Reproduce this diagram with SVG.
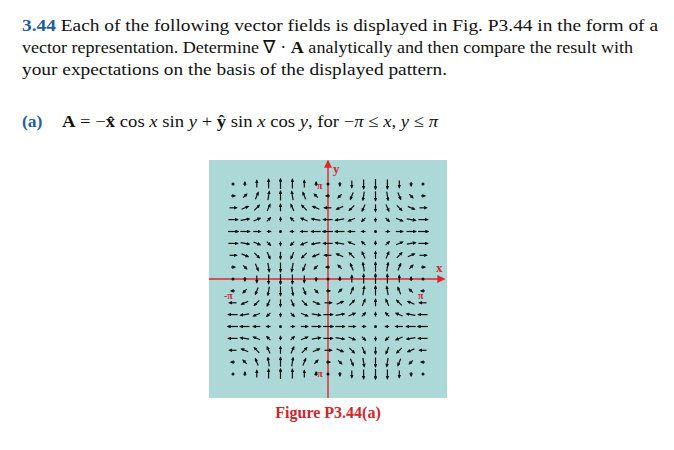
<svg xmlns="http://www.w3.org/2000/svg" width="674" height="450" viewBox="0 0 674 450">
<style>
.t{font-family:"Liberation Serif",serif;font-size:17.5px;fill:#111}
.b{font-weight:bold;fill:#1f5d9e}
.r{font-family:"Liberation Serif",serif;font-weight:bold;fill:#d0262c}
.ar path{fill:none;stroke:#111;stroke-width:1.2;marker-end:url(#h)}
.ar circle{fill:#111}
.ax{stroke:#e0262a;stroke-width:1.4;fill:none}
</style>
<defs>
<marker id="h" markerUnits="userSpaceOnUse" markerWidth="4" markerHeight="3.6" refX="3" refY="2" orient="auto" viewBox="0 0 4.5 4">
<path d="M0,0L4.5,2L0,4z" fill="#111"/>
</marker>
<marker id="ah" markerUnits="userSpaceOnUse" markerWidth="8" markerHeight="8" refX="5" refY="3" orient="auto" viewBox="0 0 6 6">
<path d="M0,0L6,3L0,6z" fill="#e0262a"/>
</marker>
</defs>
<rect width="674" height="450" fill="#fff"/>
<text class="t" x="22" y="31" textLength="636" lengthAdjust="spacingAndGlyphs"><tspan class="b">3.44</tspan>  Each of the following vector fields is displayed in Fig. P3.44 in the form of a</text>
<text class="t" x="22" y="53" textLength="611" lengthAdjust="spacingAndGlyphs">vector representation. Determine ∇ · <tspan font-weight="bold">A</tspan> analytically and then compare the result with</text>
<text class="t" x="22" y="75" textLength="425" lengthAdjust="spacingAndGlyphs">your expectations on the basis of the displayed pattern.</text>
<text class="t" x="22" y="127"><tspan class="b">(a)</tspan></text>
<text class="t" x="62" y="127" textLength="376" lengthAdjust="spacingAndGlyphs"><tspan font-weight="bold">A</tspan> = −<tspan font-weight="bold">x̂</tspan> cos <tspan font-style="italic">x</tspan> sin <tspan font-style="italic">y</tspan> + <tspan font-weight="bold">ŷ</tspan> sin <tspan font-style="italic">x</tspan> cos <tspan font-style="italic">y</tspan>, for −<tspan font-style="italic">π</tspan> ≤ <tspan font-style="italic">x</tspan>, <tspan font-style="italic">y</tspan> ≤ <tspan font-style="italic">π</tspan></text>
<rect x="209" y="160" width="238" height="238" fill="#acd8d7"/>
<g id="axes">
<path class="ax" d="M209 279H444" marker-end="url(#ah)"/>
<path class="ax" d="M328 398V161" marker-end="url(#ah)"/>
<text class="r" x="333" y="173" font-size="13">y</text>
<text class="r" x="436" y="272" font-size="13">x</text>
<text class="r" x="317" y="189" font-size="10">π</text>
<text class="r" x="314" y="377" font-size="10">-π</text>
<text class="r" x="224" y="299" font-size="10">-π</text>
<text class="r" x="418" y="299" font-size="10">π</text>
</g>
<g id="field" class="ar">
<g transform="translate(0,184)">
<circle cx="233" cy="0" r="1.5"/><path d="M244.9 0m0 1.9l0 -3.8"/><path d="M256.8 0m0 3.5l0 -7"/><path d="M268.6 0m0 4.6l0 -9.2"/><path d="M280.5 0m0 5l0 -10"/><path d="M292.4 0m0 4.6l0 -9.2"/><path d="M304.3 0m0 3.5l0 -7"/><path d="M316.1 0m0 1.9l0 -3.8"/><circle cx="328" cy="0" r="1.5"/><path d="M339.9 0m0 -1.9l0 3.8"/><path d="M351.8 0m0 -3.5l0 7"/><path d="M363.6 0m0 -4.6l0 9.2"/><path d="M375.5 0m0 -5l0 10"/><path d="M387.4 0m0 -4.6l0 9.2"/><path d="M399.3 0m0 -3.5l0 7"/><path d="M411.1 0m0 -1.9l0 3.8"/><circle cx="423" cy="0" r="1.5"/>
</g>
<g transform="translate(0,374)">
<circle cx="233" cy="0" r="1.5"/><path d="M244.9 0m0 1.9l0 -3.8"/><path d="M256.8 0m0 3.5l0 -7"/><path d="M268.6 0m0 4.6l0 -9.2"/><path d="M280.5 0m0 5l0 -10"/><path d="M292.4 0m0 4.6l0 -9.2"/><path d="M304.3 0m0 3.5l0 -7"/><path d="M316.1 0m0 1.9l0 -3.8"/><circle cx="328" cy="0" r="1.5"/><path d="M339.9 0m0 -1.9l0 3.8"/><path d="M351.8 0m0 -3.5l0 7"/><path d="M363.6 0m0 -4.6l0 9.2"/><path d="M375.5 0m0 -5l0 10"/><path d="M387.4 0m0 -4.6l0 9.2"/><path d="M399.3 0m0 -3.5l0 7"/><path d="M411.1 0m0 -1.9l0 3.8"/><circle cx="423" cy="0" r="1.5"/>
</g>
<g transform="translate(0,195.9)">
<path d="M233 0m-1.9 0l3.8 0"/><path d="M244.9 0m-1.8 1.8l3.6 -3.6"/><path d="M256.8 0m-1.4 3.3l2.8 -6.6"/><path d="M268.6 0m-.7 4.3l1.4 -8.6"/><path d="M280.5 0m0 4.6l0 -9.2"/><path d="M292.4 0m.7 4.3l-1.4 -8.6"/><path d="M304.3 0m1.4 3.3l-2.8 -6.6"/><path d="M316.1 0m1.8 1.8l-3.6 -3.6"/><path d="M328 0m1.9 0l-3.8 0"/><path d="M339.9 0m1.8 -1.8l-3.6 3.6"/><path d="M351.8 0m1.4 -3.3l-2.8 6.6"/><path d="M363.6 0m.7 -4.3l-1.4 8.6"/><path d="M375.5 0m0 -4.6l0 9.2"/><path d="M387.4 0m-.7 -4.3l1.4 8.6"/><path d="M399.3 0m-1.4 -3.3l2.8 6.6"/><path d="M411.1 0m-1.8 -1.8l3.6 3.6"/><path d="M423 0m-1.9 0l3.8 0"/>
</g>
<g transform="translate(0,362.1)">
<path d="M233 0m1.9 0l-3.8 0"/><path d="M244.9 0m1.8 1.8l-3.6 -3.6"/><path d="M256.8 0m1.4 3.3l-2.8 -6.6"/><path d="M268.6 0m.7 4.3l-1.4 -8.6"/><path d="M280.5 0m0 4.6l0 -9.2"/><path d="M292.4 0m-.7 4.3l1.4 -8.6"/><path d="M304.3 0m-1.4 3.3l2.8 -6.6"/><path d="M316.1 0m-1.8 1.8l3.6 -3.6"/><path d="M328 0m-1.9 0l3.8 0"/><path d="M339.9 0m-1.8 -1.8l3.6 3.6"/><path d="M351.8 0m-1.4 -3.3l2.8 6.6"/><path d="M363.6 0m-.7 -4.3l1.4 8.6"/><path d="M375.5 0m0 -4.6l0 9.2"/><path d="M387.4 0m.7 -4.3l-1.4 8.6"/><path d="M399.3 0m1.4 -3.3l-2.8 6.6"/><path d="M411.1 0m1.8 -1.8l-3.6 3.6"/><path d="M423 0m1.9 0l-3.8 0"/>
</g>
<g transform="translate(0,207.8)">
<path d="M233 0m-3.5 0l7 0"/><path d="M244.9 0m-3.3 1.4l6.6 -2.8"/><path d="M256.8 0m-2.5 2.5l5 -5"/><path d="M268.6 0m-1.4 3.3l2.8 -6.6"/><path d="M280.5 0m0 3.5l0 -7"/><path d="M292.4 0m1.4 3.3l-2.8 -6.6"/><path d="M304.3 0m2.5 2.5l-5 -5"/><path d="M316.1 0m3.3 1.4l-6.6 -2.8"/><path d="M328 0m3.5 0l-7 0"/><path d="M339.9 0m3.3 -1.4l-6.6 2.8"/><path d="M351.8 0m2.5 -2.5l-5 5"/><path d="M363.6 0m1.4 -3.3l-2.8 6.6"/><path d="M375.5 0m0 -3.5l0 7"/><path d="M387.4 0m-1.4 -3.3l2.8 6.6"/><path d="M399.3 0m-2.5 -2.5l5 5"/><path d="M411.1 0m-3.3 -1.4l6.6 2.8"/><path d="M423 0m-3.5 0l7 0"/>
</g>
<g transform="translate(0,350.3)">
<path d="M233 0m3.5 0l-7 0"/><path d="M244.9 0m3.3 1.4l-6.6 -2.8"/><path d="M256.8 0m2.5 2.5l-5 -5"/><path d="M268.6 0m1.4 3.3l-2.8 -6.6"/><path d="M280.5 0m0 3.5l0 -7"/><path d="M292.4 0m-1.4 3.3l2.8 -6.6"/><path d="M304.3 0m-2.5 2.5l5 -5"/><path d="M316.1 0m-3.3 1.4l6.6 -2.8"/><path d="M328 0m-3.5 0l7 0"/><path d="M339.9 0m-3.3 -1.4l6.6 2.8"/><path d="M351.8 0m-2.5 -2.5l5 5"/><path d="M363.6 0m-1.4 -3.3l2.8 6.6"/><path d="M375.5 0m0 -3.5l0 7"/><path d="M387.4 0m1.4 -3.3l-2.8 6.6"/><path d="M399.3 0m2.5 -2.5l-5 5"/><path d="M411.1 0m3.3 -1.4l-6.6 2.8"/><path d="M423 0m3.5 0l-7 0"/>
</g>
<g transform="translate(0,219.6)">
<path d="M233 0m-4.6 0l9.2 0"/><path d="M244.9 0m-4.3 .7l8.6 -1.4"/><path d="M256.8 0m-3.3 1.4l6.6 -2.8"/><path d="M268.6 0m-1.8 1.8l3.6 -3.6"/><path d="M280.5 0m0 1.9l0 -3.8"/><path d="M292.4 0m1.8 1.8l-3.6 -3.6"/><path d="M304.3 0m3.3 1.4l-6.6 -2.8"/><path d="M316.1 0m4.3 .7l-8.6 -1.4"/><path d="M328 0m4.6 0l-9.2 0"/><path d="M339.9 0m4.3 -.7l-8.6 1.4"/><path d="M351.8 0m3.3 -1.4l-6.6 2.8"/><path d="M363.6 0m1.8 -1.8l-3.6 3.6"/><path d="M375.5 0m0 -1.9l0 3.8"/><path d="M387.4 0m-1.8 -1.8l3.6 3.6"/><path d="M399.3 0m-3.3 -1.4l6.6 2.8"/><path d="M411.1 0m-4.3 -.7l8.6 1.4"/><path d="M423 0m-4.6 0l9.2 0"/>
</g>
<g transform="translate(0,338.4)">
<path d="M233 0m4.6 0l-9.2 0"/><path d="M244.9 0m4.3 .7l-8.6 -1.4"/><path d="M256.8 0m3.3 1.4l-6.6 -2.8"/><path d="M268.6 0m1.8 1.8l-3.6 -3.6"/><path d="M280.5 0m0 1.9l0 -3.8"/><path d="M292.4 0m-1.8 1.8l3.6 -3.6"/><path d="M304.3 0m-3.3 1.4l6.6 -2.8"/><path d="M316.1 0m-4.3 .7l8.6 -1.4"/><path d="M328 0m-4.6 0l9.2 0"/><path d="M339.9 0m-4.3 -.7l8.6 1.4"/><path d="M351.8 0m-3.3 -1.4l6.6 2.8"/><path d="M363.6 0m-1.8 -1.8l3.6 3.6"/><path d="M375.5 0m0 -1.9l0 3.8"/><path d="M387.4 0m1.8 -1.8l-3.6 3.6"/><path d="M399.3 0m3.3 -1.4l-6.6 2.8"/><path d="M411.1 0m4.3 -.7l-8.6 1.4"/><path d="M423 0m4.6 0l-9.2 0"/>
</g>
<g transform="translate(0,231.5)">
<path d="M233 0m-5 0l10 0"/><path d="M244.9 0m-4.6 0l9.2 0"/><path d="M256.8 0m-3.5 0l7 0"/><path d="M268.6 0m-1.9 0l3.8 0"/><circle cx="280.5" cy="0" r="1.5"/><path d="M292.4 0m1.9 0l-3.8 0"/><path d="M304.3 0m3.5 0l-7 0"/><path d="M316.1 0m4.6 0l-9.2 0"/><path d="M328 0m5 0l-10 0"/><path d="M339.9 0m4.6 0l-9.2 0"/><path d="M351.8 0m3.5 0l-7 0"/><path d="M363.6 0m1.9 0l-3.8 0"/><circle cx="375.5" cy="0" r="1.5"/><path d="M387.4 0m-1.9 0l3.8 0"/><path d="M399.3 0m-3.5 0l7 0"/><path d="M411.1 0m-4.6 0l9.2 0"/><path d="M423 0m-5 0l10 0"/>
</g>
<g transform="translate(0,326.5)">
<path d="M233 0m5 0l-10 0"/><path d="M244.9 0m4.6 0l-9.2 0"/><path d="M256.8 0m3.5 0l-7 0"/><path d="M268.6 0m1.9 0l-3.8 0"/><circle cx="280.5" cy="0" r="1.5"/><path d="M292.4 0m-1.9 0l3.8 0"/><path d="M304.3 0m-3.5 0l7 0"/><path d="M316.1 0m-4.6 0l9.2 0"/><path d="M328 0m-5 0l10 0"/><path d="M339.9 0m-4.6 0l9.2 0"/><path d="M351.8 0m-3.5 0l7 0"/><path d="M363.6 0m-1.9 0l3.8 0"/><circle cx="375.5" cy="0" r="1.5"/><path d="M387.4 0m1.9 0l-3.8 0"/><path d="M399.3 0m3.5 0l-7 0"/><path d="M411.1 0m4.6 0l-9.2 0"/><path d="M423 0m5 0l-10 0"/>
</g>
<g transform="translate(0,243.4)">
<path d="M233 0m-4.6 0l9.2 0"/><path d="M244.9 0m-4.3 -.7l8.6 1.4"/><path d="M256.8 0m-3.3 -1.4l6.6 2.8"/><path d="M268.6 0m-1.8 -1.8l3.6 3.6"/><path d="M280.5 0m0 -1.9l0 3.8"/><path d="M292.4 0m1.8 -1.8l-3.6 3.6"/><path d="M304.3 0m3.3 -1.4l-6.6 2.8"/><path d="M316.1 0m4.3 -.7l-8.6 1.4"/><path d="M328 0m4.6 0l-9.2 0"/><path d="M339.9 0m4.3 .7l-8.6 -1.4"/><path d="M351.8 0m3.3 1.4l-6.6 -2.8"/><path d="M363.6 0m1.8 1.8l-3.6 -3.6"/><path d="M375.5 0m0 1.9l0 -3.8"/><path d="M387.4 0m-1.8 1.8l3.6 -3.6"/><path d="M399.3 0m-3.3 1.4l6.6 -2.8"/><path d="M411.1 0m-4.3 .7l8.6 -1.4"/><path d="M423 0m-4.6 0l9.2 0"/>
</g>
<g transform="translate(0,314.6)">
<path d="M233 0m4.6 0l-9.2 0"/><path d="M244.9 0m4.3 -.7l-8.6 1.4"/><path d="M256.8 0m3.3 -1.4l-6.6 2.8"/><path d="M268.6 0m1.8 -1.8l-3.6 3.6"/><path d="M280.5 0m0 -1.9l0 3.8"/><path d="M292.4 0m-1.8 -1.8l3.6 3.6"/><path d="M304.3 0m-3.3 -1.4l6.6 2.8"/><path d="M316.1 0m-4.3 -.7l8.6 1.4"/><path d="M328 0m-4.6 0l9.2 0"/><path d="M339.9 0m-4.3 .7l8.6 -1.4"/><path d="M351.8 0m-3.3 1.4l6.6 -2.8"/><path d="M363.6 0m-1.8 1.8l3.6 -3.6"/><path d="M375.5 0m0 1.9l0 -3.8"/><path d="M387.4 0m1.8 1.8l-3.6 -3.6"/><path d="M399.3 0m3.3 1.4l-6.6 -2.8"/><path d="M411.1 0m4.3 .7l-8.6 -1.4"/><path d="M423 0m4.6 0l-9.2 0"/>
</g>
<g transform="translate(0,255.3)">
<path d="M233 0m-3.5 0l7 0"/><path d="M244.9 0m-3.3 -1.4l6.6 2.8"/><path d="M256.8 0m-2.5 -2.5l5 5"/><path d="M268.6 0m-1.4 -3.3l2.8 6.6"/><path d="M280.5 0m0 -3.5l0 7"/><path d="M292.4 0m1.4 -3.3l-2.8 6.6"/><path d="M304.3 0m2.5 -2.5l-5 5"/><path d="M316.1 0m3.3 -1.4l-6.6 2.8"/><path d="M328 0m3.5 0l-7 0"/><path d="M339.9 0m3.3 1.4l-6.6 -2.8"/><path d="M351.8 0m2.5 2.5l-5 -5"/><path d="M363.6 0m1.4 3.3l-2.8 -6.6"/><path d="M375.5 0m0 3.5l0 -7"/><path d="M387.4 0m-1.4 3.3l2.8 -6.6"/><path d="M399.3 0m-2.5 2.5l5 -5"/><path d="M411.1 0m-3.3 1.4l6.6 -2.8"/><path d="M423 0m-3.5 0l7 0"/>
</g>
<g transform="translate(0,302.8)">
<path d="M233 0m3.5 0l-7 0"/><path d="M244.9 0m3.3 -1.4l-6.6 2.8"/><path d="M256.8 0m2.5 -2.5l-5 5"/><path d="M268.6 0m1.4 -3.3l-2.8 6.6"/><path d="M280.5 0m0 -3.5l0 7"/><path d="M292.4 0m-1.4 -3.3l2.8 6.6"/><path d="M304.3 0m-2.5 -2.5l5 5"/><path d="M316.1 0m-3.3 -1.4l6.6 2.8"/><path d="M328 0m-3.5 0l7 0"/><path d="M339.9 0m-3.3 1.4l6.6 -2.8"/><path d="M351.8 0m-2.5 2.5l5 -5"/><path d="M363.6 0m-1.4 3.3l2.8 -6.6"/><path d="M375.5 0m0 3.5l0 -7"/><path d="M387.4 0m1.4 3.3l-2.8 -6.6"/><path d="M399.3 0m2.5 2.5l-5 -5"/><path d="M411.1 0m3.3 1.4l-6.6 -2.8"/><path d="M423 0m3.5 0l-7 0"/>
</g>
<g transform="translate(0,267.1)">
<path d="M233 0m-1.9 0l3.8 0"/><path d="M244.9 0m-1.8 -1.8l3.6 3.6"/><path d="M256.8 0m-1.4 -3.3l2.8 6.6"/><path d="M268.6 0m-.7 -4.3l1.4 8.6"/><path d="M280.5 0m0 -4.6l0 9.2"/><path d="M292.4 0m.7 -4.3l-1.4 8.6"/><path d="M304.3 0m1.4 -3.3l-2.8 6.6"/><path d="M316.1 0m1.8 -1.8l-3.6 3.6"/><path d="M328 0m1.9 0l-3.8 0"/><path d="M339.9 0m1.8 1.8l-3.6 -3.6"/><path d="M351.8 0m1.4 3.3l-2.8 -6.6"/><path d="M363.6 0m.7 4.3l-1.4 -8.6"/><path d="M375.5 0m0 4.6l0 -9.2"/><path d="M387.4 0m-.7 4.3l1.4 -8.6"/><path d="M399.3 0m-1.4 3.3l2.8 -6.6"/><path d="M411.1 0m-1.8 1.8l3.6 -3.6"/><path d="M423 0m-1.9 0l3.8 0"/>
</g>
<g transform="translate(0,290.9)">
<path d="M233 0m1.9 0l-3.8 0"/><path d="M244.9 0m1.8 -1.8l-3.6 3.6"/><path d="M256.8 0m1.4 -3.3l-2.8 6.6"/><path d="M268.6 0m.7 -4.3l-1.4 8.6"/><path d="M280.5 0m0 -4.6l0 9.2"/><path d="M292.4 0m-.7 -4.3l1.4 8.6"/><path d="M304.3 0m-1.4 -3.3l2.8 6.6"/><path d="M316.1 0m-1.8 -1.8l3.6 3.6"/><path d="M328 0m-1.9 0l3.8 0"/><path d="M339.9 0m-1.8 1.8l3.6 -3.6"/><path d="M351.8 0m-1.4 3.3l2.8 -6.6"/><path d="M363.6 0m-.7 4.3l1.4 -8.6"/><path d="M375.5 0m0 4.6l0 -9.2"/><path d="M387.4 0m.7 4.3l-1.4 -8.6"/><path d="M399.3 0m1.4 3.3l-2.8 -6.6"/><path d="M411.1 0m1.8 1.8l-3.6 -3.6"/><path d="M423 0m1.9 0l-3.8 0"/>
</g>
<g transform="translate(0,279)">
<circle cx="233" cy="0" r="1.5"/><path d="M244.9 0m0 -1.9l0 3.8"/><path d="M256.8 0m0 -3.5l0 7"/><path d="M268.6 0m0 -4.6l0 9.2"/><path d="M280.5 0m0 -5l0 10"/><path d="M292.4 0m0 -4.6l0 9.2"/><path d="M304.3 0m0 -3.5l0 7"/><path d="M316.1 0m0 -1.9l0 3.8"/><circle cx="328" cy="0" r="1.5"/><path d="M339.9 0m0 1.9l0 -3.8"/><path d="M351.8 0m0 3.5l0 -7"/><path d="M363.6 0m0 4.6l0 -9.2"/><path d="M375.5 0m0 5l0 -10"/><path d="M387.4 0m0 4.6l0 -9.2"/><path d="M399.3 0m0 3.5l0 -7"/><path d="M411.1 0m0 1.9l0 -3.8"/><circle cx="423" cy="0" r="1.5"/>
</g>
</g>
<text class="r" x="328" y="418" font-size="16" text-anchor="middle">Figure P3.44(a)</text>
</svg>
